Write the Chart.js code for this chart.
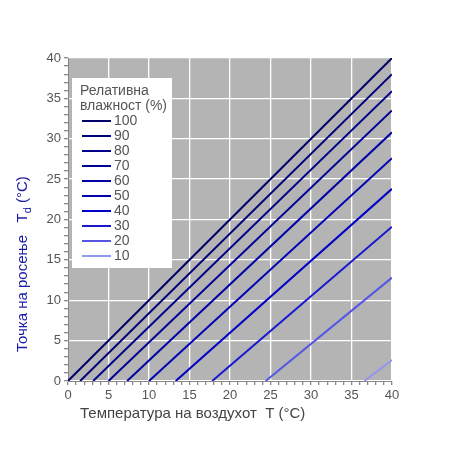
<!DOCTYPE html><html><head><meta charset="utf-8">
<script src="https://cdn.jsdelivr.net/npm/chart.js@4"></script>
<style>html,body{margin:0;background:#fff}#w{width:474px;height:474px}</style></head><body><div id="w"><canvas id="c"></canvas></div>
<script>
const humidity=[100,90,80,70,60,50,40,30,20,10];
const startT=[0,1.5,3.1,5.0,7.3,10.0,13.3,17.8,24.4,36.6];
const endTd=[40,38.0,35.9,33.5,30.8,27.6,23.8,19.1,12.8,2.6];
const colors=['#00006a','#000078','#000088','#000096','#0000a6','#0000b6','#0000c8','#1818d2','#5555e6','#9494f2'];
const legendTitle=['Релативна','влажност (%)'];
const datasets=humidity.map((h,i)=>({label:String(h),data:[{x:startT[i],y:0},{x:40,y:endTd[i]}],borderColor:colors[i],borderWidth:2,pointRadius:0,fill:false}));
const ff='Liberation Sans, Arial, sans-serif';
const deco={id:'deco',
 beforeDraw(c){const a=c.chartArea,g=c.ctx;g.save();g.fillStyle='#b4b4b4';g.fillRect(a.left,a.top,a.right-a.left,a.bottom-a.top);g.restore();},
 afterDraw(c){const g=c.ctx;g.save();
  g.fillStyle='#fff';g.fillRect(72,78,100,190);
  g.font='14px '+ff;g.fillStyle='#555';g.textBaseline='middle';
  g.fillText(legendTitle[0],80,91);g.fillText(legendTitle[1],80,106);
  humidity.forEach((h,i)=>{const y=121+i*15;g.strokeStyle=colors[i];g.lineWidth=2;g.beginPath();g.moveTo(82,y);g.lineTo(111,y);g.stroke();g.fillStyle='#555';g.fillText(h,114,y+0.5);});
  g.font='15px '+ff;g.fillStyle='#444';g.textBaseline='alphabetic';
  g.fillText('Температура на воздухот  T (°C)',80,418);
  g.translate(27,352);g.rotate(-Math.PI/2);g.fillStyle='#1a1aa8';
  let s='Точка на росење   T';g.fillText(s,0,0);let w=g.measureText(s).width;
  g.font='11px '+ff;g.fillText('d',w,4);w+=g.measureText('d').width;
  g.font='15px '+ff;g.fillText(' (°C)',w,0);
  g.restore();}};
const tk=()=>({min:0,max:40,ticks:{stepSize:1,autoSkip:false,maxRotation:0,minRotation:0,color:'#555',font:{size:13,family:ff},callback:v=>v%5===0?v:''},
 grid:{color:x=>x.tick&&x.tick.value%5===0?'#ffffff':'rgba(0,0,0,0)',tickColor:'#888',tickLength:4,lineWidth:1.3},border:{color:'#888'}});
const xs=tk();xs.afterFit=s=>{s.height=93};
const ys=tk();ys.afterFit=s=>{s.width=68};
new Chart(document.getElementById('c'),{type:'line',data:{datasets},plugins:[deco],
options:{responsive:true,maintainAspectRatio:false,animation:false,layout:{padding:{top:58,right:82,left:0,bottom:0}},
plugins:{legend:{display:false},tooltip:{enabled:false}},
scales:{x:{type:'linear',...xs},y:ys}}});
</script></body></html>
